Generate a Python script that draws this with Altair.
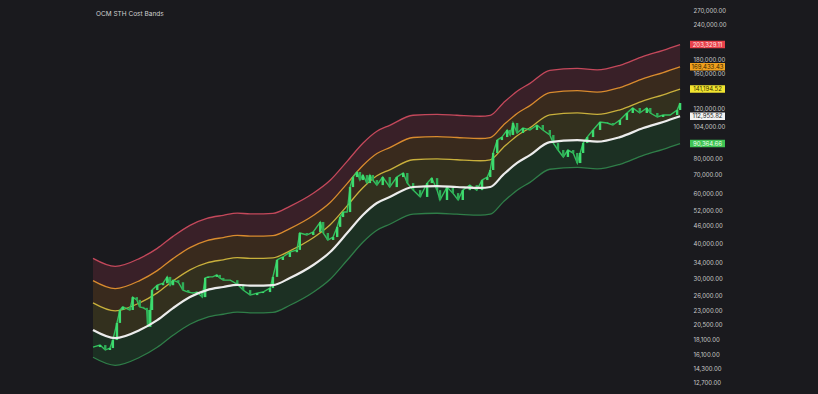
import altair as alt
import pandas as pd

# ---------------- data ----------------
start = pd.Timestamp("2022-12-15")

# STH cost basis (white line): day offset from start, value
base_days = [0, 38, 80, 110, 137, 166, 195, 223, 247, 269, 308, 337, 377, 406, 435, 462,
             486, 508, 548, 589, 623, 663, 680, 702, 726, 748, 782, 829, 863, 902, 942, 976, 1005]
base_vals = [19600, 18350, 19600, 21270, 23460, 25690, 27190, 27890, 28400, 28200, 28340,
             30020, 33400, 37150, 43400, 50300, 55500, 58300, 63300, 63800, 63300, 62800,
             63300, 69900, 77100, 82200, 91500, 93000, 91800, 95300, 102600, 107800, 112955.82]

# Band end values shown in the right-hand labels (top to bottom)
band_names = ["b180", "b150", "b125", "b100", "b080"]
band_last = [203329.11, 169433.43, 141194.52, 112955.82, 90364.66]
band_line_colors = ["#c4485b", "#d98b2e", "#c9b03c", "#ececec", "#2f7d48"]
band_line_widths = [1.3, 1.3, 1.3, 2.2, 1.3]
label_bg = ["#e8414a", "#f0a01e", "#f2e530", "#f2f2f2", "#3fc454"]
label_fg = ["#ffe0e0", "#3a2800", "#3a3500", "#222222", "#eaffea"]
fill_colors = ["#3b2129", "#3b2b1e", "#35311f", "#1c3224"]

# BTC price closes: day offset, close
price_days = [0, 12, 21, 29, 34, 41, 46, 51, 63, 68, 75, 80, 86, 92, 94, 98, 101, 110, 120, 127,
              132, 137, 146, 154, 163, 171, 178, 187, 192, 197, 205, 212, 217, 223, 235, 247, 257,
              269, 281, 291, 303, 308, 315, 325, 337, 349, 354, 366, 377, 389, 394, 402, 411, 418,
              423, 428, 435, 440, 445, 452, 457, 462, 469, 474, 479, 486, 496, 508, 520, 531, 538,
              548, 560, 572, 580, 589, 594, 606, 616, 625, 633, 645, 657, 666, 675, 680, 685, 692,
              700, 709, 714, 719, 726, 736, 748, 760, 770, 782, 788, 796, 805, 813, 822, 829, 834,
              839, 846, 856, 868, 880, 890, 902, 914, 924, 936, 948, 954, 966, 976, 988, 1000, 1005]
price_close = [17050, 17330, 16640, 16910, 18060, 20780, 23100, 23710, 23100, 25670, 25100, 23710,
               23510, 23100, 20110, 23100, 27200, 28300, 28770, 30300, 28300, 29500, 29000, 27200,
               26760, 26540, 26760, 25670, 30050, 30300, 30300, 30800, 30050, 29500, 29500, 28530,
               27200, 26100, 26540, 26760, 27650, 30300, 34800, 35670, 37100, 37800, 43420, 42700,
               43780, 47510, 43420, 41000, 42000, 45650, 49480, 51550, 51550, 63250, 68670, 71570,
               67000, 69800, 65370, 69800, 67000, 64300, 68670, 63250, 68670, 70980, 65370, 61700,
               58340, 65370, 68100, 61700, 56900, 63250, 60200, 56900, 61700, 64300, 61700, 67000,
               68670, 72750, 83620, 93000, 95320, 101000, 96900, 106940, 98550, 102650, 101000,
               105200, 101000, 96900, 90740, 85700, 80960, 85700, 83620, 77030, 83620, 90740, 95320,
               101000, 107820, 106940, 105200, 109600, 116090, 120930, 116090, 120930, 116090,
               112340, 114200, 114200, 118960, 125960]

# visible axis labels (210,000 / 140,000 / 90,000 sit under the value boxes)
tick_vals = [270000, 240000, 180000, 160000, 120000, 104000, 80000, 70000,
             60000, 52000, 46000, 40000, 34000, 30000, 26000, 23000, 20500, 18100, 16100, 14300, 12700]

title_text = "OCM STH Cost Bands"

# ---------------- tables ----------------
mults = [v / band_last[3] for v in band_last]
bdf = pd.DataFrame({"date": start + pd.to_timedelta(base_days, unit="D")})
for name, m in zip(band_names, mults):
    bdf[name] = [v * m for v in base_vals]

pdf = pd.DataFrame({"date": start + pd.to_timedelta(price_days, unit="D"), "close": price_close})
pdf["open"] = [price_close[0]] + price_close[:-1]
pdf["dir"] = ["up" if c >= o else "down" for o, c in zip(pdf["open"], pdf["close"])]

ldf = pd.DataFrame({"value": band_last, "bg": label_bg, "fg": label_fg})
ldf["label"] = [f"{v:,.2f}" for v in band_last]

tdf = pd.DataFrame({"t": [title_text]})

# ---------------- scales ----------------
FONT = "Inter"
x_scale = alt.Scale(domain=[start.isoformat(), (start + pd.Timedelta(days=1010)).isoformat()])
y_scale = alt.Scale(type="log", domain=[11605, 293060], nice=False, zero=False)
y_axis = alt.Axis(
    orient="right", values=tick_vals, format=",.2f", title=None, grid=False,
    domain=False, ticks=False, labelPadding=10, labelFontSize=6, labelFont=FONT,
    labelColor="#c8c8c8", labelOverlap=False, labelFlush=False,
)
X = alt.X("date:T", scale=x_scale, axis=None)


def Y(field):
    return alt.Y(field, scale=y_scale, axis=y_axis)


base = alt.Chart(bdf)
layers = []

# band fills
pairs = [("b180", "b150"), ("b150", "b125"), ("b125", "b100"), ("b100", "b080")]
for (hi, lo), col in zip(pairs, fill_colors):
    layers.append(
        base.mark_area(color=col, opacity=0.95, interpolate="monotone").encode(
            x=X, y=Y(f"{hi}:Q"), y2=f"{lo}:Q"
        )
    )

# band lines
for name, col, w in zip(band_names, band_line_colors, band_line_widths):
    if name == "b100":
        continue
    layers.append(
        base.mark_line(color=col, strokeWidth=w, interpolate="monotone").encode(
            x=X, y=Y(f"{name}:Q")
        )
    )

# price
pc = alt.Chart(pdf)
layers.append(
    pc.mark_line(color="#35c862", strokeWidth=1.4, opacity=0.95).encode(
        x=X, y=Y("close:Q")
    )
)
layers.append(
    pc.mark_rule(strokeWidth=2.4).encode(
        x=X,
        y=Y("open:Q"),
        y2="close:Q",
        color=alt.Color("dir:N", scale=alt.Scale(domain=["up", "down"], range=["#3ddc6f", "#2fae57"]), legend=None),
    )
)

# white cost basis line on top
layers.append(
    base.mark_line(color=band_line_colors[3], strokeWidth=band_line_widths[3], interpolate="monotone").encode(
        x=X, y=Y("b100:Q")
    )
)

# right-hand value labels
lc = alt.Chart(ldf)
layers.append(
    lc.mark_rule(strokeWidth=7.5, strokeCap="butt").encode(
        x=alt.value(597), x2=alt.value(632),
        y=Y("value:Q"),
        color=alt.Color("bg:N", scale=None),
    )
)
layers.append(
    lc.mark_text(fontSize=6, font=FONT, align="center", baseline="middle").encode(
        x=alt.value(614.5),
        y=Y("value:Q"),
        text="label:N",
        color=alt.Color("fg:N", scale=None),
    )
)

# title
layers.append(
    alt.Chart(tdf).mark_text(fontSize=6.5, font=FONT, align="left", baseline="middle", color="#d0d0d0").encode(
        x=alt.value(3), y=alt.value(14), text="t:N"
    )
)

chart = (
    alt.layer(*layers)
    .properties(width=590, height=394, autosize="none",
                padding={"left": 93, "top": 0, "right": 135, "bottom": 0},
                background="#1a1a1e")
    .configure_view(stroke=None)
)

chart.save("out.html", embed_options={"renderer": "svg", "actions": False})
